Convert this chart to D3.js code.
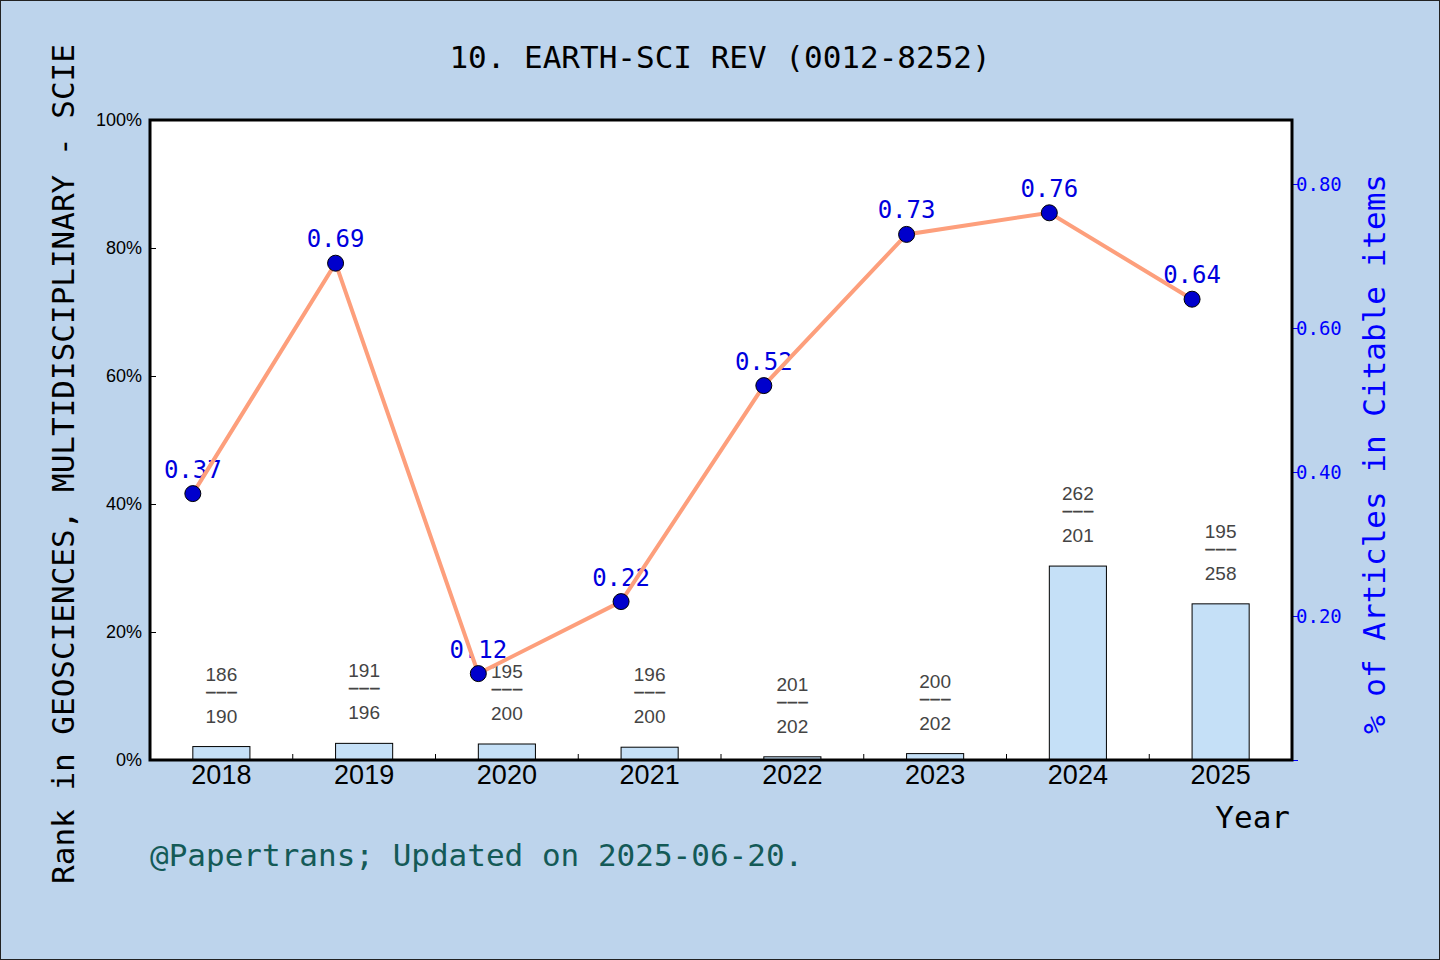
<!DOCTYPE html>
<html>
<head>
<meta charset="utf-8">
<style>
  body { margin: 0; background: #bdd4ec; }
  svg { display: block; }
</style>
</head>
<body>
<div id="chartId"></div>
<script src="https://cdn.jsdelivr.net/npm/d3@7"></script>
<script>

// Chart data
const years = [2018, 2019, 2020, 2021, 2022, 2023, 2024, 2025];
const rankNum = [186, 191, 195, 196, 201, 200, 262, 195];
const rankDen = [190, 196, 200, 200, 202, 202, 201, 258];
const rankPct = [2.1, 2.6, 2.5, 2.0, 0.5, 1.0, 30.3, 24.4];
const citable = [0.37, 0.69, 0.12, 0.22, 0.52, 0.73, 0.76, 0.64];
const leftTicks = [0, 20, 40, 60, 80, 100];
const rightTicks = [0, 0.2, 0.4, 0.6, 0.8];

const W = 1440, H = 960;
const margin = {top: 120, right: 148, bottom: 200, left: 150};
const mono = "'DejaVu Sans Mono', monospace";
const sans = "'Liberation Sans', Arial, sans-serif";

const svg = d3.select('#chartId').append('svg')
  .attr('width', W).attr('height', H);

svg.append('rect').attr('x', 0.5).attr('y', 0.5)
  .attr('width', W - 1).attr('height', H - 1)
  .attr('fill', '#bdd4ec').attr('stroke', '#222');

const x = d3.scaleBand().domain(years).range([margin.left, W - margin.right]);
const y = d3.scaleLinear().domain([0, 100]).range([H - margin.bottom, margin.top]);
const y2 = d3.scaleLinear().domain([0, 0.8 / 0.9]).range([H - margin.bottom, margin.top]);
const bw = x.bandwidth();
const px = d => x(d) + bw * 0.3;

// plot area
svg.append('rect')
  .attr('x', margin.left).attr('y', margin.top)
  .attr('width', W - margin.left - margin.right)
  .attr('height', H - margin.top - margin.bottom)
  .attr('fill', 'white');

// bars
const rows = years.map((yr, i) => ({year: yr, num: rankNum[i], den: rankDen[i], pct: rankPct[i], v: citable[i]}));

svg.append('g').selectAll('rect').data(rows).enter().append('rect')
  .attr('x', d => x(d.year) + bw * 0.3)
  .attr('width', bw * 0.4)
  .attr('y', d => y(d.pct))
  .attr('height', d => y(0) - y(d.pct))
  .attr('fill', '#c5e0f7')
  .attr('stroke', 'black').attr('stroke-width', 1);

// bar labels: rank / total
const bl = svg.append('g').attr('font-family', sans).attr('font-size', 19)
  .attr('fill', '#444').attr('text-anchor', 'middle');
rows.forEach(d => {
  const cx = x(d.year) + bw / 2, top = y(d.pct);
  bl.append('text').attr('x', cx).attr('y', top - 66).text(d.num);
  bl.append('text').attr('x', cx).attr('y', top - 51)
    .attr('font-size', 12).attr('stroke', '#444').attr('stroke-width', 0.7)
    .attr('textLength', 32).attr('lengthAdjust', 'spacingAndGlyphs').text('---');
  bl.append('text').attr('x', cx).attr('y', top - 24).text(d.den);
});

// point labels
svg.append('g').selectAll('text').data(rows).enter().append('text')
  .attr('x', d => px(d.year))
  .attr('y', d => y2(d.v) - 16)
  .attr('text-anchor', 'middle')
  .attr('font-family', mono).attr('font-size', 24)
  .attr('fill', '#0000dd')
  .text(d => d3.format('.2f')(d.v));

// line + dots
const line = d3.line().x(d => px(d.year)).y(d => y2(d.v));
svg.append('path').datum(rows)
  .attr('d', line)
  .attr('fill', 'none')
  .attr('stroke', '#fd9f7c')
  .attr('stroke-width', 4);

svg.append('g').selectAll('circle').data(rows).enter().append('circle')
  .attr('cx', d => px(d.year))
  .attr('cy', d => y2(d.v))
  .attr('r', 8)
  .attr('fill', '#0000cc')
  .attr('stroke', 'black').attr('stroke-width', 1);

// left axis
const yAxis = d3.axisLeft(y).tickValues(leftTicks).tickSize(-6).tickPadding(8)
  .tickFormat(d => d + '%');
const ga = svg.append('g').attr('transform', 'translate(' + margin.left + ',0)').call(yAxis);
ga.select('.domain').remove();
ga.selectAll('text').attr('font-family', sans).attr('font-size', 18).attr('fill', 'black');
ga.selectAll('line').attr('stroke', 'black');

// right axis
const yAxis2 = d3.axisRight(y2).tickValues(rightTicks).tickSize(6).tickPadding(0)
  .tickFormat(d => d === 0 ? '' : d3.format('.2f')(d));
const gr = svg.append('g').attr('transform', 'translate(' + (W - margin.right) + ',0)').call(yAxis2);
gr.select('.domain').remove();
gr.selectAll('text').attr('font-family', mono).attr('font-size', 19).attr('fill', '#0000ff').attr('x', 4);
gr.selectAll('line').attr('stroke', '#0000ff');

// x axis
const xAxis = d3.axisBottom(x).tickSize(0).tickPadding(5);
const gx = svg.append('g').attr('transform', 'translate(0,' + (H - margin.bottom) + ')').call(xAxis);
gx.select('.domain').remove();
gx.selectAll('text').attr('font-family', sans).attr('font-size', 27).attr('fill', 'black');

// ticks between bands, pointing inward
svg.append('g').selectAll('line').data(years.slice(1)).enter().append('line')
  .attr('x1', d => x(d)).attr('x2', d => x(d))
  .attr('y1', y(0)).attr('y2', y(0) - 6)
  .attr('stroke', 'black');

// frame
svg.append('rect')
  .attr('x', margin.left).attr('y', margin.top)
  .attr('width', W - margin.left - margin.right)
  .attr('height', H - margin.top - margin.bottom)
  .attr('fill', 'none').attr('stroke', 'black').attr('stroke-width', 3);

// titles
svg.append('text').attr('x', 720).attr('y', 68)
  .attr('text-anchor', 'middle').attr('font-family', mono).attr('font-size', 31)
  .attr('fill', 'black').text('10. EARTH-SCI REV (0012-8252)');

svg.append('text').attr('transform', 'translate(74,464) rotate(-90)')
  .attr('text-anchor', 'middle').attr('font-family', mono).attr('font-size', 31)
  .attr('fill', 'black').text('Rank in GEOSCIENCES, MULTIDISCIPLINARY - SCIE');

svg.append('text').attr('transform', 'translate(1385,454) rotate(-90)')
  .attr('text-anchor', 'middle').attr('font-family', mono).attr('font-size', 31)
  .attr('fill', '#0000ff').text('% of Articles in Citable items');

svg.append('text').attr('x', 1290).attr('y', 828)
  .attr('text-anchor', 'end').attr('font-family', mono).attr('font-size', 31)
  .attr('fill', 'black').text('Year');

svg.append('text').attr('x', 150).attr('y', 866)
  .attr('font-family', mono).attr('font-size', 31)
  .attr('fill', '#145a57').text('@Papertrans; Updated on 2025-06-20.');

</script>
</body>
</html>
